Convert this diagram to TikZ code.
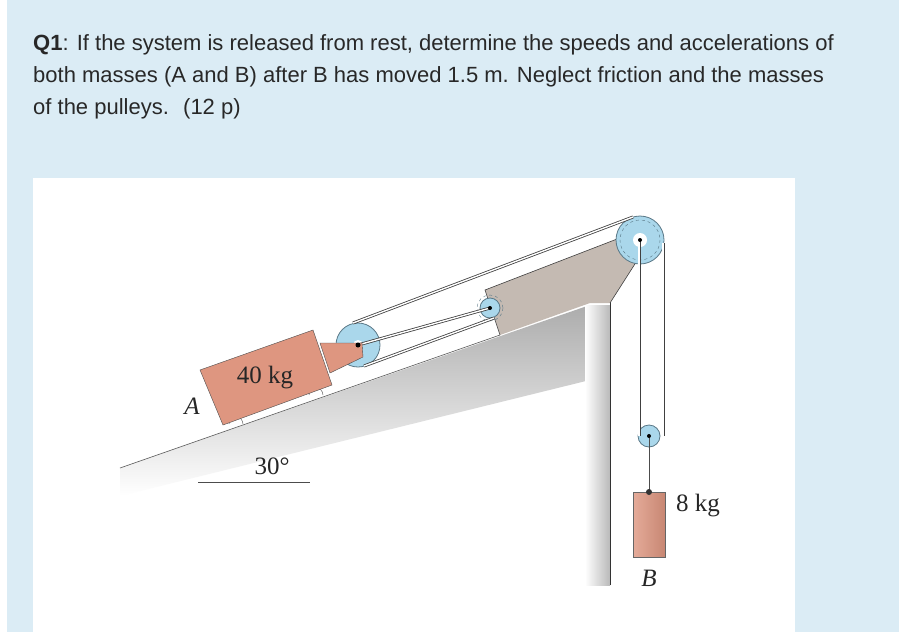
\documentclass[tikz,border=0pt]{standalone}
\usepackage{fontspec}
\newfontfamily\qfont{Liberation Sans}
\newfontfamily\lfont{Liberation Serif}
\usetikzlibrary{calc}
\definecolor{bgblue}{RGB}{219,236,245}
\definecolor{qtext}{RGB}{40,40,40}
\definecolor{bracket}{RGB}{196,186,178}
\definecolor{salmon}{RGB}{222,150,128}
\definecolor{pblue}{RGB}{170,215,235}
\definecolor{pdark}{RGB}{90,120,135}
\tikzset{
  qline/.style={anchor=west,font=\qfont\fontsize{22}{25}\selectfont,text=qtext,inner sep=0},
  ropeout/.style={draw=gray!50!black,line width=3pt},
  ropein/.style={draw=white,line width=1.4pt},
  pulley/.style={circle,draw=pdark,fill=pblue,line width=0.8pt,inner sep=0},
  lab/.style={font=\lfont\fontsize{25}{27}\selectfont,text=black!85,inner sep=0}
}
\begin{document}
\begin{tikzpicture}[x=1pt,y=-1pt]
\useasboundingbox (0,0) rectangle (899,632);
\fill[white] (0,0) rectangle (899,632);
\fill[bgblue] (7,0) rectangle (899,632);
\fill[white] (33,178) rectangle (795,632);
\node[qline] (l1) at (33,45) {\textbf{Q1}: If the system is released from rest, determine the speeds and accelerations of};
\node[qline] (l2) at (33,77) {both masses (A and B) after B has moved 1.5 m. Neglect friction and the masses};
\node[qline] (l3) at (33,109) {of the pulleys.~ (12 p)};
% incline slab
\shade[top color=gray!65,bottom color=white] (120,468) -- (590,305) -- (590,380) -- (120,496) -- cycle;
\draw[gray!70!black,line width=0.6pt] (120,468) -- (500,335);
% post
\shade[left color=white,right color=gray!55] (585,305) rectangle (610,585);
\draw[gray!40!black,line width=0.7pt] (610,300) -- (610,585);
% bracket
\fill[bracket] (485,290) -- (630,234) -- (640,256) -- (610,303) -- (590,303) -- (500,335) -- cycle;
\draw[gray!50!black,line width=0.6pt] (500,335) -- (485,290) -- (630,234);
\draw[gray!50!black,line width=0.6pt] (640,256) -- (610,303);
% pulley nodes
\node[pulley,minimum size=48pt] (pt) at (640,240) {};
\node[circle,fill=white,minimum size=14pt,inner sep=0] at (640,240) {};
\draw[pdark,dashed] (640,240) circle[radius=20];
\node[pulley,minimum size=20pt] (ps) at (490,308) {};
\draw[pdark,dashed] (490,308) circle[radius=13];
\node[pulley,minimum size=22pt] (pb) at (649,436) {};
\node[pulley,minimum size=44pt] (pc) at (358,345) {};
\node[circle,fill=white,minimum size=10pt,inner sep=0] at (358,345) {};
% ropes
\foreach \s in {ropeout,ropein}{
  \draw[\s] (353,323) -- (633,217);
  \draw[\s] (358,345) -- (490,308);
  \draw[\s] (364,366) -- (494,318);
  \draw[\s] (639,240) -- (639,436);
  \draw[\s] (663,243) -- (663,436);
}
\draw[gray!60!black,line width=0.8pt] (649,436) -- (649,492);
\fill (640,240) circle[radius=2];
\fill (490,308) circle[radius=2];
\fill (649,436) circle[radius=2];
% block A
\draw[black!70,fill=salmon] (320,343) -- (362,343) -- (363,357) -- (330,373) -- cycle;
\fill (358,345) circle[radius=2.5];
\draw[black!70,fill=white] (229,424) arc[start angle=180,end angle=360,radius=7];
\draw[black!70,fill=white] (309,395) arc[start angle=180,end angle=360,radius=7];
\draw[black!70,fill=salmon] (200,370) -- (313,330) -- (332,385) -- (223,425) -- cycle;
\node[lab] (mA) at (265,378) {40 kg};
\node[lab] (A) at (192,406) {\textit{A}};
% block B
\shade[left color=salmon!80!white,right color=salmon!90!black,draw=black!60] (633,492) rectangle (665,557);
\fill[black!80] (649,492) circle[radius=3];
\node[lab,anchor=west] (mB) at (676,506) {8 kg};
\node[lab] (B) at (649,578) {\textit{B}};
% angle
\node[lab] (ang) at (272,466) {30\textdegree};
\draw[black!70,line width=0.8pt] (198,482) -- (310,482);
\end{tikzpicture}
\end{document}
